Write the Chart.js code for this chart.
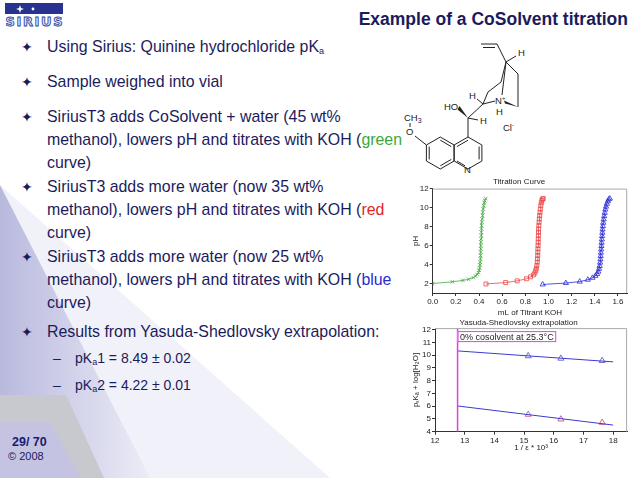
<!DOCTYPE html>
<html lang="en">
<head>
<meta charset="UTF-8">
<title>CoSolvent titration</title>
<style>
  html, body { margin: 0; padding: 0; }
  body { width: 638px; height: 478px; position: relative; overflow: hidden; background: #fff;
         font-family: 'Liberation Sans', Arial, sans-serif; color: #1b1b5c; }
  #bg { position: absolute; left: 0; top: 0; }
  .ln { position: absolute; left: 47px; font-size: 15.9px; line-height: 18px; white-space: nowrap; }
  .bul { position: absolute; left: 21px; font-size: 14px; line-height: 18px; font-family: 'DejaVu Sans', sans-serif; }
  .sub { position: absolute; left: 53px; font-size: 14px; line-height: 18px; }
  .sl { position: absolute; left: 75px; font-size: 14px; line-height: 18px; white-space: nowrap; }
  .s { font-size: 9px; vertical-align: -2px; }
  #title { position: absolute; right: 10px; top: 9px; font-size: 17.5px; font-weight: bold; }
  .chart { position: absolute; background: #fff; }
  #page { position: absolute; left: 12px; top: 435px; font-size: 12.5px; font-weight: bold; color: #1b1b70; }
  #copy { position: absolute; left: 8px; top: 450px; font-size: 11px; color: #1b1b5c; }
</style>
</head>
<body>

<svg id="bg" width="638" height="478">
  <defs>
    <linearGradient id="lav" x1="0" y1="0" x2="1" y2="0">
      <stop offset="0" stop-color="#b9b9de"/>
      <stop offset="1" stop-color="#ececf7"/>
    </linearGradient>
  </defs>
  <polygon points="0,185 330,478 0,478" fill="#f1f1f9"/>
  <polygon points="0,185 150,478 0,478" fill="url(#lav)"/>
  <polygon points="0,395 66,395 104,478 0,478" fill="#c8c8cf"/>
  <polygon points="0,422 50,422 80,478 0,478" fill="#c4c4e2"/>

  <!-- logo -->
  <rect x="5" y="3" width="58" height="11" fill="#27338f"/>
  <path d="M20 5 L21 8 L24 9 L21 10 L20 13 L19 10 L16 9 L19 8 Z" fill="#fff"/>
  <circle cx="33" cy="9" r="1.4" fill="#fff"/>
  <text x="34" y="26" text-anchor="middle" font-family="'DejaVu Sans', sans-serif" font-weight="bold"
        font-size="13" fill="#e4e9f8" stroke="#3046a6" stroke-width="0.9" textLength="57">SIRIUS</text>

  <!-- quinine hydrochloride structure -->
  <g stroke="#222" stroke-width="1" fill="none">
    <polygon points="468,137 481.9,145 481.9,161 468,169 454.1,161 454.1,145"/>
    <polygon points="440.3,137 454.1,145 454.1,161 440.3,169 426.4,161 426.4,145"/>
    <line x1="479.1" y1="146.6" x2="479.1" y2="159.4"/>
    <line x1="465" y1="165.8" x2="456.9" y2="161"/>
    <line x1="456.9" y1="146.6" x2="468" y2="140.2"/>
    <line x1="440.3" y1="140.2" x2="451.3" y2="146.6"/>
    <line x1="429.2" y1="159.4" x2="429.2" y2="146.6"/>
    <line x1="440.3" y1="165.8" x2="451.3" y2="159.4"/>
    <line x1="426.4" y1="145" x2="415" y2="136"/>
    <line x1="410" y1="127" x2="410" y2="123"/>
    <line x1="468" y1="118" x2="468" y2="137"/>
    <line x1="468" y1="118" x2="478" y2="120"/>
    <line x1="468" y1="118" x2="483" y2="104"/>
    <line x1="483" y1="104" x2="477" y2="99"/>
    <line x1="483" y1="104" x2="488" y2="92"/>
    <line x1="488" y1="92" x2="501" y2="82"/>
    <line x1="501" y1="82" x2="506" y2="62"/>
    <line x1="506" y1="62" x2="518" y2="74"/>
    <line x1="518" y1="74" x2="518" y2="107"/>
    <line x1="506" y1="62" x2="502" y2="95"/>
    <line x1="483" y1="104" x2="495" y2="101"/>
    <line x1="481" y1="44" x2="497" y2="44"/>
    <line x1="483" y1="47.5" x2="495" y2="47.5"/>
    <line x1="497" y1="44" x2="506" y2="62"/>
    <line x1="506" y1="62" x2="516" y2="56"/>
  </g>
  <polygon points="468,118 459.5,106 457.5,109.5" fill="#222"/>
  <polygon points="518,107 504,100.5 505,103.5" fill="#222"/>
  <g font-family="'Liberation Sans', Arial, sans-serif" font-size="9.5" fill="#222">
    <text x="404" y="121">CH<tspan font-size="7" dy="2">3</tspan></text>
    <text x="406" y="135">O</text>
    <text x="444" y="110">HO</text>
    <text x="480" y="124">H</text>
    <text x="469" y="99">H</text>
    <text x="495" y="104">N<tspan font-size="6" dy="-4">+</tspan></text>
    <text x="496" y="115">H</text>
    <text x="464" y="173">N</text>
    <text x="518" y="56">H</text>
    <text x="503" y="131">Cl<tspan font-size="6" dy="-4">-</tspan></text>
  </g>
</svg>

<div id="title">Example of a CoSolvent titration</div>

<div class="bul" style="top:38px">✦</div>
<div class="ln" style="top:38px">Using Sirius: Quinine hydrochloride pK<span class="s">a</span></div>
<div class="bul" style="top:73px">✦</div>
<div class="ln" style="top:73px">Sample weighed into vial</div>
<div class="bul" style="top:108px">✦</div>
<div class="ln" style="top:108px">SiriusT3 adds CoSolvent + water (45 wt%</div>
<div class="ln" style="top:131px">methanol), lowers pH and titrates with KOH (<span style="color:#3aa83a">green</span></div>
<div class="ln" style="top:154px">curve)</div>
<div class="bul" style="top:178px">✦</div>
<div class="ln" style="top:178px">SiriusT3 adds more water (now 35 wt%</div>
<div class="ln" style="top:201px">methanol), lowers pH and titrates with KOH (<span style="color:#e02525">red</span></div>
<div class="ln" style="top:224px">curve)</div>
<div class="bul" style="top:248px">✦</div>
<div class="ln" style="top:248px">SiriusT3 adds more water (now 25 wt%</div>
<div class="ln" style="top:271px">methanol), lowers pH and titrates with KOH (<span style="color:#2b2bd0">blue</span></div>
<div class="ln" style="top:294px">curve)</div>
<div class="bul" style="top:323px">✦</div>
<div class="ln" style="top:323px">Results from Yasuda-Shedlovsky extrapolation:</div>
<div class="sub" style="top:349px">–</div>
<div class="sl" style="top:349px">pK<span class="s">a</span>1 = 8.49 ± 0.02</div>
<div class="sub" style="top:376px">–</div>
<div class="sl" style="top:376px">pK<span class="s">a</span>2 = 4.22 ± 0.01</div>

<div id="page">29/ 70</div>
<div id="copy">© 2008</div>

<div class="chart" style="left:410px; top:176px; width:222px; height:143px;"><canvas id="titr"></canvas></div>
<div class="chart" style="left:410px; top:317px; width:222px; height:137px;"><canvas id="ys"></canvas></div>

<script src="https://cdn.jsdelivr.net/npm/chart.js"></script>
<script>
// titration curves: volume of KOH (mL) and pH
let greenVol = [0.00, 0.17, 0.26, 0.31, 0.35, 0.37, 0.385, 0.395, 0.40, 0.405, 0.408, 0.41, 0.412, 0.413, 0.414, 0.415, 0.416, 0.417, 0.418, 0.419, 0.42, 0.421, 0.423, 0.425, 0.427, 0.43, 0.433, 0.436, 0.44, 0.445, 0.45, 0.458];
let greenPH  = [2.00, 2.18, 2.33, 2.45, 2.62, 2.78, 2.95, 3.15, 3.40, 3.65, 3.95, 4.25, 4.60, 4.95, 5.30, 5.65, 6.00, 6.35, 6.70, 7.05, 7.40, 7.75, 8.10, 8.45, 8.80, 9.15, 9.50, 9.85, 10.20, 10.50, 10.75, 10.95];
let redVol = [0.46, 0.63, 0.73, 0.81, 0.845, 0.87, 0.882, 0.89, 0.895, 0.90, 0.903, 0.905, 0.907, 0.908, 0.909, 0.91, 0.911, 0.912, 0.913, 0.914, 0.915, 0.917, 0.919, 0.921, 0.924, 0.927, 0.93, 0.934, 0.938, 0.943, 0.948, 0.955];
let redPH  = [1.95, 2.10, 2.28, 2.50, 2.70, 2.90, 3.10, 3.35, 3.60, 3.90, 4.25, 4.60, 4.95, 5.30, 5.65, 6.00, 6.35, 6.70, 7.05, 7.40, 7.75, 8.10, 8.45, 8.80, 9.15, 9.50, 9.85, 10.20, 10.50, 10.75, 10.90, 10.95];
let blueVol = [0.95, 1.15, 1.27, 1.34, 1.38, 1.405, 1.42, 1.43, 1.437, 1.442, 1.446, 1.449, 1.451, 1.453, 1.455, 1.457, 1.459, 1.461, 1.463, 1.465, 1.467, 1.47, 1.473, 1.477, 1.481, 1.486, 1.491, 1.497, 1.504, 1.512, 1.52, 1.53];
let bluePH  = [1.90, 2.05, 2.20, 2.40, 2.60, 2.80, 3.00, 3.25, 3.55, 3.85, 4.20, 4.55, 4.90, 5.25, 5.60, 5.95, 6.30, 6.65, 7.00, 7.35, 7.70, 8.05, 8.40, 8.75, 9.10, 9.45, 9.80, 10.10, 10.40, 10.65, 10.85, 10.95];
let volTicks = [0.0, 0.2, 0.4, 0.6, 0.8, 1.0, 1.2, 1.4, 1.6];
let phTicks = [2, 4, 6, 8, 10, 12];

// Yasuda-Shedlovsky: 1/eps*1000 against psKa + log[H2O]
let invEps = [15.14, 16.24, 17.63];
let upperPK = [9.94, 9.75, 9.57];
let lowerPK = [5.35, 4.98, 4.72];
let fitX = [12.76, 18.0];
let upperFit = [10.34, 9.48];
let lowerFit = [6.02, 4.52];
let waterInvEps = 12.76;
let waterLabel = '0% cosolvent at 25.3°C';
let ysXTicks = [12, 13, 14, 15, 16, 17, 18];
let ysYTicks = [4, 5, 6, 7, 8, 9, 10, 11, 12];

Chart.defaults.font.family = "'Liberation Sans', Arial, sans-serif";
Chart.defaults.font.size = 8;
Chart.defaults.color = '#222';

function pts(xs, ys) {
    let out = [];
    for (let i = 0; i < xs.length; i++) out.push({x: xs[i], y: ys[i]});
    return out;
}

const frame = {
    id: 'frame',
    afterDraw(chart) {
        let a = chart.chartArea, c = chart.ctx;
        c.save();
        c.strokeStyle = '#aaa';
        c.lineWidth = 1;
        c.beginPath();
        c.moveTo(a.left, a.top + 0.5);
        c.lineTo(a.right - 0.5, a.top + 0.5);
        c.lineTo(a.right - 0.5, a.bottom);
        c.stroke();
        c.restore();
    }
};

function axis(min, max, tickList, title, fmt, size, isX) {
    return {
        type: 'linear', min: min, max: max,
        afterBuildTicks: s => { s.ticks = tickList.map(v => ({value: v})); },
        afterFit: s => { if (isX) s.height = size; else s.width = size; },
        ticks: { padding: 1, font: {size: 8}, color: '#222', callback: v => fmt(v) },
        grid: { drawOnChartArea: false, tickLength: 3, color: '#333' },
        border: { color: '#333' },
        title: { display: true, text: title, font: {size: 8}, padding: 1, color: '#222' }
    };
}

new Chart(document.getElementById('titr'), {
    type: 'scatter',
    data: {
        datasets: [
            { data: pts(greenVol, greenPH), showLine: true, borderColor: '#45a845', backgroundColor: 'transparent',
              borderWidth: 0.8, pointStyle: 'crossRot', pointRadius: 2.5, pointBorderWidth: 0.8 },
            { data: pts(redVol, redPH), showLine: true, borderColor: '#e84848', backgroundColor: 'transparent',
              borderWidth: 0.8, pointStyle: 'rect', pointRadius: 2.8, pointBorderWidth: 0.8 },
            { data: pts(blueVol, bluePH), showLine: true, borderColor: '#2828d8', backgroundColor: 'transparent',
              borderWidth: 0.8, pointStyle: 'triangle', pointRadius: 3, pointBorderWidth: 0.8 }
        ]
    },
    options: {
        responsive: true, maintainAspectRatio: false, animation: false,
        layout: { padding: { left: 0, right: 4, top: 0, bottom: 0 } },
        plugins: {
            legend: { display: false }, tooltip: { enabled: false },
            title: { display: true, text: 'Titration Curve', font: {size: 8, weight: 'normal'}, padding: {top: 1, bottom: 2}, color: '#222' }
        },
        scales: {
            x: axis(0, 1.68, volTicks, 'mL of Titrant KOH', v => v.toFixed(1), 26, true),
            y: axis(1, 12, phTicks, 'pH', v => String(v), 22.7, false)
        }
    },
    plugins: [frame]
});

const waterMark = {
    id: 'waterMark',
    afterDatasetsDraw(chart) {
        let c = chart.ctx, a = chart.chartArea;
        let x = chart.scales.x.getPixelForValue(waterInvEps);
        c.save();
        c.font = "9px 'Liberation Sans', Arial, sans-serif";
        let w = c.measureText(waterLabel).width + 4;
        c.fillStyle = '#fff';
        c.fillRect(x, a.top + 3, w, 11);
        c.strokeStyle = '#e040e0';
        c.lineWidth = 1;
        c.strokeRect(x + 0.5, a.top + 3.5, w, 10);
        c.fillStyle = '#222';
        c.textBaseline = 'middle';
        c.fillText(waterLabel, x + 2.5, a.top + 9);
        c.restore();
    }
};

new Chart(document.getElementById('ys'), {
    type: 'scatter',
    data: {
        datasets: [
            { data: [{x: waterInvEps, y: 4}, {x: waterInvEps, y: 12.13}], showLine: true, borderColor: '#e040e0',
              borderWidth: 1.5, pointRadius: 0 },
            { data: pts(fitX, upperFit), showLine: true, borderColor: '#3a3ad0', borderWidth: 1, pointRadius: 0 },
            { data: pts(fitX, lowerFit), showLine: true, borderColor: '#3a3ad0', borderWidth: 1, pointRadius: 0 },
            { data: pts(invEps, upperPK), borderColor: '#6060c8', backgroundColor: 'transparent',
              pointStyle: 'triangle', pointRadius: 3.5, pointBorderWidth: 0.9 },
            { data: pts(invEps, lowerPK), borderColor: '#d0508a', backgroundColor: 'transparent',
              pointStyle: 'triangle', pointRadius: 3.5, pointBorderWidth: 0.9 }
        ]
    },
    options: {
        responsive: true, maintainAspectRatio: false, animation: false,
        layout: { padding: { left: 0, right: 4.7, top: 0, bottom: 0 } },
        plugins: {
            legend: { display: false }, tooltip: { enabled: false },
            title: { display: true, text: 'Yasuda-Shedlovsky extrapolation', font: {size: 8, weight: 'normal'}, padding: {top: 1, bottom: 0.5}, color: '#222' }
        },
        scales: {
            x: axis(12, 18.47, ysXTicks, '1 / ε * 10³', v => String(v), 22.3, true),
            y: axis(4, 12.13, ysYTicks, 'pₛKₐ + log[H₂O]', v => String(v), 25, false)
        }
    },
    plugins: [frame, waterMark]
});
</script>
</body>
</html>
